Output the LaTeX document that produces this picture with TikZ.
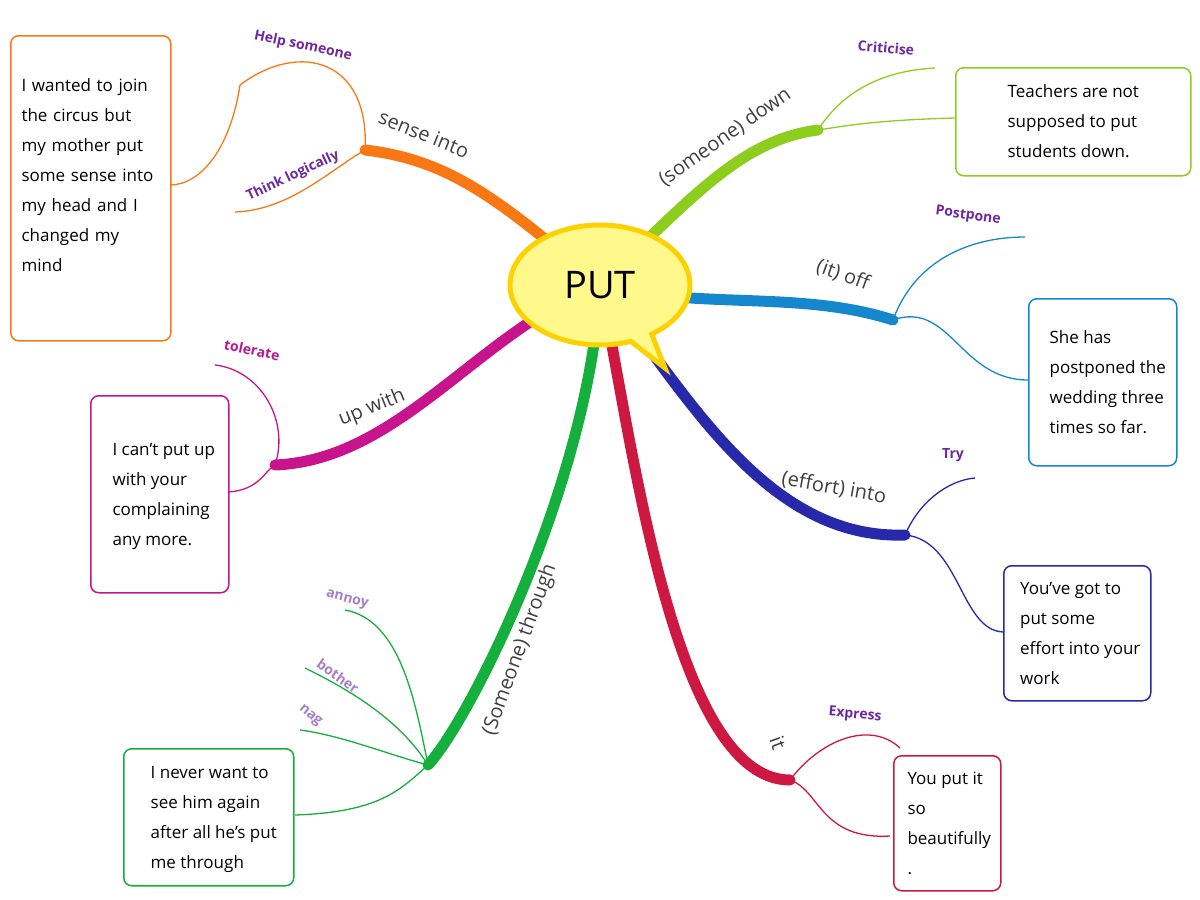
\documentclass[tikz,border=0pt]{standalone}
\usepackage{fontspec}
\setmainfont{Open Sans}
\usetikzlibrary{shapes.geometric,shapes.callouts}
\definecolor{cor}{RGB}{250,120,20}
\definecolor{clime}{RGB}{140,205,30}
\definecolor{cblue}{RGB}{20,135,205}
\definecolor{cnavy}{RGB}{40,40,170}
\definecolor{ccrim}{RGB}{205,25,65}
\definecolor{cgreen}{RGB}{20,175,60}
\definecolor{cmag}{RGB}{200,20,140}
\definecolor{cpurp}{RGB}{110,40,160}
\tikzset{
  ex/.style={draw=#1, line width=1.5pt, rounded corners=8pt, align=left, anchor=north west, inner sep=12pt, font=\fontsize{17}{30}\selectfont, text=black},
  thick branch/.style={draw=#1, line width=11pt, line cap=round},
  thin/.style={draw=#1, line width=1.3pt},
  bl/.style={font=\fontsize{20}{22}\selectfont, text=black!75},
  sl/.style={font=\bfseries\fontsize{14}{16}\selectfont, text=cpurp},
}
\begin{document}
\begin{tikzpicture}[x=1pt,y=-1pt]
\useasboundingbox (0,0) rectangle (1200,900);
% hubs
\coordinate (c) at (600,285);
\coordinate (fo) at (365,150);
\coordinate (fl) at (818,130);
\coordinate (fb) at (893,320);
\coordinate (fn) at (905,535);
\coordinate (fc) at (790,780);
\coordinate (fg) at (428,765);
\coordinate (fm) at (275,465);
% thick branches
\draw[thick branch=cor] (c) .. controls (500,200) and (450,160) .. (fo);
\draw[thick branch=clime] (c) .. controls (690,200) and (740,140) .. (fl);
\draw[thick branch=cblue] (c) .. controls (700,310) and (800,290) .. (fb);
\draw[thick branch=cnavy] (c) .. controls (680,380) and (760,540) .. (fn);
\draw[thick branch=ccrim] (c) .. controls (630,420) and (670,780) .. (fc);
\draw[thick branch=cgreen] (c) .. controls (590,480) and (470,720) .. (fg);
\draw[thick branch=cmag] (c) .. controls (480,330) and (400,460) .. (fm);
% centre
\node[ellipse callout, draw=yellow!70!orange, line width=5pt, fill=yellow!45, minimum width=180pt, minimum height=120pt, callout absolute pointer={(665,368)}, font=\fontsize{38}{40}\selectfont] (put) at (600,285) {PUT};
% boxes
\node[ex=cor, minimum width=160pt, minimum height=305pt, anchor=north west] (b1) at (10,35) {};
\node[anchor=north west, align=left, font=\fontsize{17}{30}\selectfont, text width=140pt] (t1) at (18,75) {I wanted to join\\the circus but\\my mother put\\some sense into\\my head and I\\changed my\\mind};
\node[ex=clime, minimum width=235pt, minimum height=108pt, align=center, anchor=north west, inner sep=0pt] (b2) at (955,67) {\begin{tabular}{l}Teachers are not\\supposed to put\\students down.\end{tabular}};
\node[ex=cblue, minimum width=148pt, minimum height=167pt, inner sep=0pt] (b3) at (1028,298) {\hspace{10pt}\begin{tabular}{l}She has\\postponed the\\wedding three\\times so far.\end{tabular}};
\node[ex=cnavy, minimum width=147pt, minimum height=135pt, inner sep=0pt] (b4) at (1003,565) {\hspace{6pt}\begin{tabular}{l}You've got to\\put some\\effort into your\\work\end{tabular}};
\node[ex=ccrim, minimum width=107pt, minimum height=135pt, inner sep=0pt] (b5) at (893,755) {\hspace{4pt}\begin{tabular}{l}You put it\\so\\beautifully\\.\end{tabular}};
\node[ex=cgreen, minimum width=170pt, minimum height=137pt, inner sep=0pt] (b6) at (123,748) {\hspace{10pt}\begin{tabular}{l}I never want to\\see him again\\after all he's put\\me through\end{tabular}};
\node[ex=cmag, minimum width=138pt, minimum height=197pt, inner sep=0pt] (b7) at (90,395) {\hspace{8pt}\begin{tabular}{l}I can't put up\\with your\\complaining\\any more.\end{tabular}};
% orange thin
\draw[thin=cor] (fo) .. controls (370,60) and (300,40) .. (240,85);
\draw[thin=cor] (240,85) .. controls (230,150) and (200,185) .. (170,185);
\draw[thin=cor] (fo) .. controls (330,170) and (290,210) .. (235,212);
\node[sl, rotate=-12] (l1a) at (303,46) {Help someone};
\node[sl, rotate=25] (l1b) at (293,176) {Think logically};
\node[bl, rotate=-22] (m1) at (424,134) {sense into};
% lime
\draw[thin=clime] (fl) .. controls (850,80) and (900,70) .. (935,68);
\draw[thin=clime] (fl) .. controls (850,125) and (880,120) .. (955,118);
\node[sl, rotate=-5] (l2) at (886,48) {Criticise};
\node[bl, rotate=35] (m2) at (725,137) {(someone) down};
% blue
\draw[thin=cblue] (fb) .. controls (915,260) and (970,237) .. (1025,237);
\draw[thin=cblue] (fb) .. controls (950,300) and (960,380) .. (1028,380);
\node[sl, rotate=-8] (l3) at (968,216) {Postpone};
\node[bl, rotate=-20] (m3) at (843,275) {(it) off};
% navy
\draw[thin=cnavy] (fn) .. controls (920,500) and (950,480) .. (975,478);
\draw[thin=cnavy] (fn) .. controls (960,540) and (960,630) .. (1003,632);
\node[sl] (l4) at (953,455) {Try};
\node[bl, rotate=-10] (m4) at (834,488) {(effort) into};
% crimson
\draw[thin=ccrim] (fc) .. controls (820,740) and (870,720) .. (900,748);
\draw[thin=ccrim] (fc) .. controls (820,790) and (820,840) .. (890,836);
\node[sl, rotate=-5] (l5) at (855,715) {Express};
\node[bl, rotate=-70] (m5) at (778,743) {it};
% green
\draw[thin=cgreen] (fg) .. controls (415,700) and (400,620) .. (345,610);
\draw[thin=cgreen] (fg) .. controls (400,720) and (350,690) .. (305,668);
\draw[thin=cgreen] (fg) .. controls (390,755) and (340,735) .. (300,730);
\draw[thin=cgreen] (fg) .. controls (400,790) and (380,812) .. (295,815);
\node[sl, text=cpurp!60, rotate=-15] (l6a) at (347,600) {annoy};
\node[sl, text=cpurp!60, rotate=-35] (l6b) at (338,676) {bother};
\node[sl, text=cpurp!60, rotate=-40] (l6c) at (310,716) {nag};
\node[bl, rotate=70] (m6) at (520,650) {(Someone) through};
% magenta
\draw[thin=cmag] (fm) .. controls (290,420) and (260,370) .. (215,365);
\draw[thin=cmag] (fm) .. controls (265,470) and (260,490) .. (228,492);
\node[sl, text=cmag!80!cpurp, rotate=-12] (l7) at (252,350) {tolerate};
\node[bl, rotate=22] (m7) at (372,408) {up with};
\end{tikzpicture}
\end{document}
